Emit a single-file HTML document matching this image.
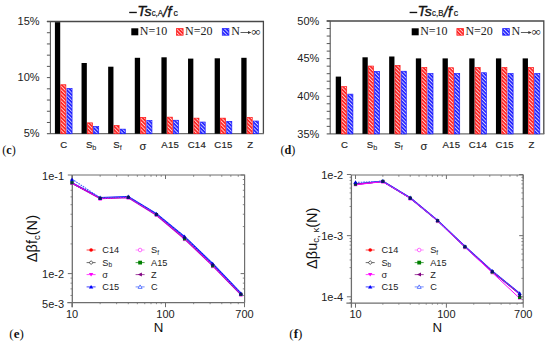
<!DOCTYPE html>
<html><head><meta charset="utf-8"><style>
html,body{margin:0;padding:0;background:#fff;width:550px;height:345px;overflow:hidden}
svg{display:block}
</style></head><body>
<svg width="550" height="345" viewBox="0 0 550 345">
<rect width="550" height="345" fill="#fff"/>
<defs><pattern id="hr" patternUnits="userSpaceOnUse" width="2.6" height="2.6" patternTransform="rotate(-45)"><rect width="2.6" height="2.6" fill="#ff1a1a"/><rect width="1.0" height="2.6" fill="#ffd0d0"/></pattern><pattern id="hb" patternUnits="userSpaceOnUse" width="2.6" height="2.6" patternTransform="rotate(-45)"><rect width="2.6" height="2.6" fill="#1a1aff"/><rect width="1.0" height="2.6" fill="#d0d0ff"/></pattern></defs>
<path d="M46.90 21.50 H263.40 V133.70" fill="none" stroke="#484848" stroke-width="1.3"/>
<path d="M46.90 133.70 H263.90" stroke="#6e6e6e" stroke-width="1.3"/>
<path d="M50.40 21.50 V133.70" stroke="#555" stroke-width="1.1"/>
<path d="M46.90 21.50 H50.40" stroke="#555" stroke-width="1"/>
<path d="M46.90 32.72 H50.40" stroke="#555" stroke-width="1"/>
<path d="M46.90 43.94 H50.40" stroke="#555" stroke-width="1"/>
<path d="M46.90 55.16 H50.40" stroke="#555" stroke-width="1"/>
<path d="M46.90 66.38 H50.40" stroke="#555" stroke-width="1"/>
<path d="M46.90 77.60 H50.40" stroke="#555" stroke-width="1"/>
<path d="M46.90 88.82 H50.40" stroke="#555" stroke-width="1"/>
<path d="M46.90 100.04 H50.40" stroke="#555" stroke-width="1"/>
<path d="M46.90 111.26 H50.40" stroke="#555" stroke-width="1"/>
<path d="M46.90 122.48 H50.40" stroke="#555" stroke-width="1"/>
<text x="39.60" y="25.10" font-family='"Liberation Sans", sans-serif' font-size="11" text-anchor="end" fill="#222">15%</text>
<text x="39.60" y="81.20" font-family='"Liberation Sans", sans-serif' font-size="11" text-anchor="end" fill="#222">10%</text>
<text x="39.60" y="137.30" font-family='"Liberation Sans", sans-serif' font-size="11" text-anchor="end" fill="#222">5%</text>
<rect x="54.91" y="22.20" width="5.3" height="111.50" fill="#000"/>
<rect x="60.76" y="84.75" width="5.1" height="48.95" fill="url(#hr)" stroke="#ff1a1a" stroke-width="0.7"/>
<rect x="66.96" y="88.45" width="5.1" height="45.25" fill="url(#hb)" stroke="#1a1aff" stroke-width="0.7"/>
<text x="63.71" y="148.40" font-family='"Liberation Sans", sans-serif' font-size="9.6" letter-spacing="0" text-anchor="middle" fill="#222" stroke="#222" stroke-width="0.15">C</text>
<rect x="81.54" y="63.00" width="5.3" height="70.70" fill="#000"/>
<rect x="87.39" y="122.85" width="5.1" height="10.85" fill="url(#hr)" stroke="#ff1a1a" stroke-width="0.7"/>
<rect x="93.59" y="126.55" width="5.1" height="7.15" fill="url(#hb)" stroke="#1a1aff" stroke-width="0.7"/>
<text x="91.14" y="148.40" font-family='"Liberation Sans", sans-serif' font-size="9.6" text-anchor="middle" fill="#222" stroke="#222" stroke-width="0.15">S<tspan font-size="7.2" dy="1.9" stroke-width="0.05">b</tspan></text>
<rect x="108.16" y="66.70" width="5.3" height="67.00" fill="#000"/>
<rect x="114.01" y="125.45" width="5.1" height="8.25" fill="url(#hr)" stroke="#ff1a1a" stroke-width="0.7"/>
<rect x="120.21" y="129.15" width="5.1" height="4.55" fill="url(#hb)" stroke="#1a1aff" stroke-width="0.7"/>
<text x="117.46" y="148.40" font-family='"Liberation Sans", sans-serif' font-size="9.6" text-anchor="middle" fill="#222" stroke="#222" stroke-width="0.15">S<tspan font-size="7.2" dy="1.9" stroke-width="0.05">f</tspan></text>
<rect x="134.79" y="57.80" width="5.3" height="75.90" fill="#000"/>
<rect x="140.64" y="117.35" width="5.1" height="16.35" fill="url(#hr)" stroke="#ff1a1a" stroke-width="0.7"/>
<rect x="146.84" y="120.55" width="5.1" height="13.15" fill="url(#hb)" stroke="#1a1aff" stroke-width="0.7"/>
<text x="142.79" y="149.70" font-family='"Liberation Sans", sans-serif' font-size="11" letter-spacing="0" text-anchor="middle" fill="#222" stroke="#222" stroke-width="0.15">σ</text>
<rect x="161.41" y="57.30" width="5.3" height="76.40" fill="#000"/>
<rect x="167.26" y="117.15" width="5.1" height="16.55" fill="url(#hr)" stroke="#ff1a1a" stroke-width="0.7"/>
<rect x="173.46" y="120.25" width="5.1" height="13.45" fill="url(#hb)" stroke="#1a1aff" stroke-width="0.7"/>
<text x="170.21" y="148.40" font-family='"Liberation Sans", sans-serif' font-size="9.6" letter-spacing="0.25" text-anchor="middle" fill="#222" stroke="#222" stroke-width="0.15">A15</text>
<rect x="188.04" y="58.60" width="5.3" height="75.10" fill="#000"/>
<rect x="193.89" y="118.15" width="5.1" height="15.55" fill="url(#hr)" stroke="#ff1a1a" stroke-width="0.7"/>
<rect x="200.09" y="122.05" width="5.1" height="11.65" fill="url(#hb)" stroke="#1a1aff" stroke-width="0.7"/>
<text x="196.84" y="148.40" font-family='"Liberation Sans", sans-serif' font-size="9.6" letter-spacing="0.25" text-anchor="middle" fill="#222" stroke="#222" stroke-width="0.15">C14</text>
<rect x="214.66" y="58.30" width="5.3" height="75.40" fill="#000"/>
<rect x="220.51" y="118.15" width="5.1" height="15.55" fill="url(#hr)" stroke="#ff1a1a" stroke-width="0.7"/>
<rect x="226.71" y="121.35" width="5.1" height="12.35" fill="url(#hb)" stroke="#1a1aff" stroke-width="0.7"/>
<text x="223.46" y="148.40" font-family='"Liberation Sans", sans-serif' font-size="9.6" letter-spacing="0.25" text-anchor="middle" fill="#222" stroke="#222" stroke-width="0.15">C15</text>
<rect x="241.29" y="57.80" width="5.3" height="75.90" fill="#000"/>
<rect x="247.14" y="117.35" width="5.1" height="16.35" fill="url(#hr)" stroke="#ff1a1a" stroke-width="0.7"/>
<rect x="253.34" y="121.05" width="5.1" height="12.65" fill="url(#hb)" stroke="#1a1aff" stroke-width="0.7"/>
<text x="250.09" y="148.40" font-family='"Liberation Sans", sans-serif' font-size="9.6" letter-spacing="0" text-anchor="middle" fill="#222" stroke="#222" stroke-width="0.15">Z</text>
<rect x="131.30" y="28.3" width="7" height="7" fill="#000"/>
<text x="139.80" y="35.4" font-family='"Liberation Serif", serif' font-size="12" fill="#222">N=10</text>
<rect x="176.50" y="28.6" width="6.6" height="6.6" fill="url(#hr)" stroke="#ff2020" stroke-width="0.8"/>
<text x="185.00" y="35.4" font-family='"Liberation Serif", serif' font-size="12" fill="#222">N=20</text>
<rect x="222.30" y="28.6" width="6.6" height="6.6" fill="url(#hb)" stroke="#2020ff" stroke-width="0.8"/>
<text x="231.20" y="35.4" font-family='"Liberation Serif", serif' font-size="12" fill="#222">N</text>
<path d="M240.50 32.5 H250.50" stroke="#333" stroke-width="0.8"/>
<path d="M248.00 31 L251.30 32.5 L248.00 34Z" fill="#333"/>
<text x="251.20" y="35.8" font-family='"Liberation Serif", serif' font-size="13" fill="#222">∞</text>
<rect x="129.20" y="11.8" width="7.6" height="1.35" fill="#111"/>
<text x="137.20" y="16.3" font-family='"Liberation Sans", sans-serif' font-style="italic" font-size="15.5" textLength="9" lengthAdjust="spacingAndGlyphs" fill="#111" stroke="#111" stroke-width="0.35">T</text>
<text x="144.40" y="16.3" font-family='"Liberation Sans", sans-serif' font-style="italic" font-size="13.2" textLength="7" lengthAdjust="spacingAndGlyphs" fill="#111" stroke="#111" stroke-width="0.35">s</text>
<text x="151.70" y="16.3" font-family='"Liberation Sans", sans-serif' font-size="8.2" textLength="11.3" lengthAdjust="spacingAndGlyphs" fill="#111" stroke="#111" stroke-width="0.2">c,A</text>
<text x="163.30" y="17.2" font-family='"Liberation Sans", sans-serif' font-style="italic" font-size="14.5" fill="#111" stroke="#111" stroke-width="0.35">/</text>
<text x="167.60" y="16.6" font-family='"Liberation Sans", sans-serif' font-style="italic" font-size="14.5" fill="#111" stroke="#111" stroke-width="0.35">f</text>
<text x="173.40" y="16.3" font-family='"Liberation Sans", sans-serif' font-size="8.8" fill="#111" stroke="#111" stroke-width="0.2">c</text>
<text x="2.30" y="153.7" font-family='"Liberation Serif", serif' font-size="12.2" fill="#111">(<tspan font-weight="bold">c</tspan>)</text>
<path d="M326.70 21.00 H543.80 V133.90" fill="none" stroke="#484848" stroke-width="1.3"/>
<path d="M326.70 133.90 H544.30" stroke="#6e6e6e" stroke-width="1.3"/>
<path d="M330.20 21.00 V133.90" stroke="#555" stroke-width="1.1"/>
<path d="M326.70 21.00 H330.20" stroke="#555" stroke-width="1"/>
<path d="M326.70 28.53 H330.20" stroke="#555" stroke-width="1"/>
<path d="M326.70 36.05 H330.20" stroke="#555" stroke-width="1"/>
<path d="M326.70 43.58 H330.20" stroke="#555" stroke-width="1"/>
<path d="M326.70 51.11 H330.20" stroke="#555" stroke-width="1"/>
<path d="M326.70 58.63 H330.20" stroke="#555" stroke-width="1"/>
<path d="M326.70 66.16 H330.20" stroke="#555" stroke-width="1"/>
<path d="M326.70 73.69 H330.20" stroke="#555" stroke-width="1"/>
<path d="M326.70 81.21 H330.20" stroke="#555" stroke-width="1"/>
<path d="M326.70 88.74 H330.20" stroke="#555" stroke-width="1"/>
<path d="M326.70 96.27 H330.20" stroke="#555" stroke-width="1"/>
<path d="M326.70 103.79 H330.20" stroke="#555" stroke-width="1"/>
<path d="M326.70 111.32 H330.20" stroke="#555" stroke-width="1"/>
<path d="M326.70 118.85 H330.20" stroke="#555" stroke-width="1"/>
<path d="M326.70 126.37 H330.20" stroke="#555" stroke-width="1"/>
<text x="319.40" y="24.60" font-family='"Liberation Sans", sans-serif' font-size="11" text-anchor="end" fill="#222">50%</text>
<text x="319.40" y="62.23" font-family='"Liberation Sans", sans-serif' font-size="11" text-anchor="end" fill="#222">45%</text>
<text x="319.40" y="99.87" font-family='"Liberation Sans", sans-serif' font-size="11" text-anchor="end" fill="#222">40%</text>
<text x="319.40" y="137.50" font-family='"Liberation Sans", sans-serif' font-size="11" text-anchor="end" fill="#222">35%</text>
<rect x="335.75" y="76.60" width="5.3" height="57.30" fill="#000"/>
<rect x="341.60" y="86.65" width="5.1" height="47.25" fill="url(#hr)" stroke="#ff1a1a" stroke-width="0.7"/>
<rect x="347.80" y="94.15" width="5.1" height="39.75" fill="url(#hb)" stroke="#1a1aff" stroke-width="0.7"/>
<text x="344.55" y="148.40" font-family='"Liberation Sans", sans-serif' font-size="9.6" letter-spacing="0" text-anchor="middle" fill="#222" stroke="#222" stroke-width="0.15">C</text>
<rect x="362.45" y="57.30" width="5.3" height="76.60" fill="#000"/>
<rect x="368.30" y="66.05" width="5.1" height="67.85" fill="url(#hr)" stroke="#ff1a1a" stroke-width="0.7"/>
<rect x="374.50" y="71.45" width="5.1" height="62.45" fill="url(#hb)" stroke="#1a1aff" stroke-width="0.7"/>
<text x="372.05" y="148.40" font-family='"Liberation Sans", sans-serif' font-size="9.6" text-anchor="middle" fill="#222" stroke="#222" stroke-width="0.15">S<tspan font-size="7.2" dy="1.9" stroke-width="0.05">b</tspan></text>
<rect x="389.15" y="56.50" width="5.3" height="77.40" fill="#000"/>
<rect x="395.00" y="65.45" width="5.1" height="68.45" fill="url(#hr)" stroke="#ff1a1a" stroke-width="0.7"/>
<rect x="401.20" y="71.25" width="5.1" height="62.65" fill="url(#hb)" stroke="#1a1aff" stroke-width="0.7"/>
<text x="398.45" y="148.40" font-family='"Liberation Sans", sans-serif' font-size="9.6" text-anchor="middle" fill="#222" stroke="#222" stroke-width="0.15">S<tspan font-size="7.2" dy="1.9" stroke-width="0.05">f</tspan></text>
<rect x="415.85" y="58.40" width="5.3" height="75.50" fill="#000"/>
<rect x="421.70" y="67.45" width="5.1" height="66.45" fill="url(#hr)" stroke="#ff1a1a" stroke-width="0.7"/>
<rect x="427.90" y="73.55" width="5.1" height="60.35" fill="url(#hb)" stroke="#1a1aff" stroke-width="0.7"/>
<text x="423.85" y="149.70" font-family='"Liberation Sans", sans-serif' font-size="11" letter-spacing="0" text-anchor="middle" fill="#222" stroke="#222" stroke-width="0.15">σ</text>
<rect x="442.55" y="58.40" width="5.3" height="75.50" fill="#000"/>
<rect x="448.40" y="67.75" width="5.1" height="66.15" fill="url(#hr)" stroke="#ff1a1a" stroke-width="0.7"/>
<rect x="454.60" y="73.55" width="5.1" height="60.35" fill="url(#hb)" stroke="#1a1aff" stroke-width="0.7"/>
<text x="451.35" y="148.40" font-family='"Liberation Sans", sans-serif' font-size="9.6" letter-spacing="0.25" text-anchor="middle" fill="#222" stroke="#222" stroke-width="0.15">A15</text>
<rect x="469.25" y="58.40" width="5.3" height="75.50" fill="#000"/>
<rect x="475.10" y="67.45" width="5.1" height="66.45" fill="url(#hr)" stroke="#ff1a1a" stroke-width="0.7"/>
<rect x="481.30" y="72.75" width="5.1" height="61.15" fill="url(#hb)" stroke="#1a1aff" stroke-width="0.7"/>
<text x="478.05" y="148.40" font-family='"Liberation Sans", sans-serif' font-size="9.6" letter-spacing="0.25" text-anchor="middle" fill="#222" stroke="#222" stroke-width="0.15">C14</text>
<rect x="495.95" y="58.40" width="5.3" height="75.50" fill="#000"/>
<rect x="501.80" y="67.45" width="5.1" height="66.45" fill="url(#hr)" stroke="#ff1a1a" stroke-width="0.7"/>
<rect x="508.00" y="73.55" width="5.1" height="60.35" fill="url(#hb)" stroke="#1a1aff" stroke-width="0.7"/>
<text x="504.75" y="148.40" font-family='"Liberation Sans", sans-serif' font-size="9.6" letter-spacing="0.25" text-anchor="middle" fill="#222" stroke="#222" stroke-width="0.15">C15</text>
<rect x="522.65" y="58.40" width="5.3" height="75.50" fill="#000"/>
<rect x="528.50" y="67.45" width="5.1" height="66.45" fill="url(#hr)" stroke="#ff1a1a" stroke-width="0.7"/>
<rect x="534.70" y="73.55" width="5.1" height="60.35" fill="url(#hb)" stroke="#1a1aff" stroke-width="0.7"/>
<text x="531.45" y="148.40" font-family='"Liberation Sans", sans-serif' font-size="9.6" letter-spacing="0" text-anchor="middle" fill="#222" stroke="#222" stroke-width="0.15">Z</text>
<rect x="411.70" y="28.3" width="7" height="7" fill="#000"/>
<text x="420.20" y="35.4" font-family='"Liberation Serif", serif' font-size="12" fill="#222">N=10</text>
<rect x="456.90" y="28.6" width="6.6" height="6.6" fill="url(#hr)" stroke="#ff2020" stroke-width="0.8"/>
<text x="465.40" y="35.4" font-family='"Liberation Serif", serif' font-size="12" fill="#222">N=20</text>
<rect x="502.70" y="28.6" width="6.6" height="6.6" fill="url(#hb)" stroke="#2020ff" stroke-width="0.8"/>
<text x="511.60" y="35.4" font-family='"Liberation Serif", serif' font-size="12" fill="#222">N</text>
<path d="M520.90 32.5 H530.90" stroke="#333" stroke-width="0.8"/>
<path d="M528.40 31 L531.70 32.5 L528.40 34Z" fill="#333"/>
<text x="531.60" y="35.8" font-family='"Liberation Serif", serif' font-size="13" fill="#222">∞</text>
<rect x="409.60" y="11.8" width="7.6" height="1.35" fill="#111"/>
<text x="417.60" y="16.3" font-family='"Liberation Sans", sans-serif' font-style="italic" font-size="15.5" textLength="9" lengthAdjust="spacingAndGlyphs" fill="#111" stroke="#111" stroke-width="0.35">T</text>
<text x="424.80" y="16.3" font-family='"Liberation Sans", sans-serif' font-style="italic" font-size="13.2" textLength="7" lengthAdjust="spacingAndGlyphs" fill="#111" stroke="#111" stroke-width="0.35">s</text>
<text x="432.10" y="16.3" font-family='"Liberation Sans", sans-serif' font-size="8.2" textLength="11.3" lengthAdjust="spacingAndGlyphs" fill="#111" stroke="#111" stroke-width="0.2">c,B</text>
<text x="443.70" y="17.2" font-family='"Liberation Sans", sans-serif' font-style="italic" font-size="14.5" fill="#111" stroke="#111" stroke-width="0.35">/</text>
<text x="448.00" y="16.6" font-family='"Liberation Sans", sans-serif' font-style="italic" font-size="14.5" fill="#111" stroke="#111" stroke-width="0.35">f</text>
<text x="453.80" y="16.3" font-family='"Liberation Sans", sans-serif' font-size="8.8" fill="#111" stroke="#111" stroke-width="0.2">c</text>
<text x="280.50" y="153.7" font-family='"Liberation Serif", serif' font-size="12.2" fill="#111">(<tspan font-weight="bold">d</tspan>)</text>
<path d="M72.30 175.00 H244.60 V302.70" fill="none" stroke="#6e6e6e" stroke-width="1.2"/>
<path d="M67.30 302.70 H244.60" stroke="#6e6e6e" stroke-width="1.3"/>
<path d="M72.30 175.00 V307.20" stroke="#6e6e6e" stroke-width="1.3"/>
<path d="M72.00 302.70 V307.20" stroke="#6e6e6e" stroke-width="1"/>
<path d="M72.00 175.00 V179.00" stroke="#6e6e6e" stroke-width="1"/>
<text x="72.00" y="318" font-family='"Liberation Sans", sans-serif' font-size="11" text-anchor="middle" fill="#222">10</text>
<path d="M100.15 302.70 V304.20" stroke="#6e6e6e" stroke-width="0.8"/>
<path d="M100.15 175.00 V176.80" stroke="#6e6e6e" stroke-width="0.8"/>
<path d="M116.61 302.70 V304.20" stroke="#6e6e6e" stroke-width="0.8"/>
<path d="M116.61 175.00 V176.80" stroke="#6e6e6e" stroke-width="0.8"/>
<path d="M128.29 302.70 V304.20" stroke="#6e6e6e" stroke-width="0.8"/>
<path d="M128.29 175.00 V176.80" stroke="#6e6e6e" stroke-width="0.8"/>
<path d="M137.35 302.70 V304.20" stroke="#6e6e6e" stroke-width="0.8"/>
<path d="M137.35 175.00 V176.80" stroke="#6e6e6e" stroke-width="0.8"/>
<path d="M144.76 302.70 V304.20" stroke="#6e6e6e" stroke-width="0.8"/>
<path d="M144.76 175.00 V176.80" stroke="#6e6e6e" stroke-width="0.8"/>
<path d="M151.02 302.70 V304.20" stroke="#6e6e6e" stroke-width="0.8"/>
<path d="M151.02 175.00 V176.80" stroke="#6e6e6e" stroke-width="0.8"/>
<path d="M156.44 302.70 V304.20" stroke="#6e6e6e" stroke-width="0.8"/>
<path d="M156.44 175.00 V176.80" stroke="#6e6e6e" stroke-width="0.8"/>
<path d="M161.22 302.70 V304.20" stroke="#6e6e6e" stroke-width="0.8"/>
<path d="M161.22 175.00 V176.80" stroke="#6e6e6e" stroke-width="0.8"/>
<path d="M165.50 302.70 V307.20" stroke="#6e6e6e" stroke-width="1"/>
<path d="M165.50 175.00 V179.00" stroke="#6e6e6e" stroke-width="1"/>
<text x="165.50" y="318" font-family='"Liberation Sans", sans-serif' font-size="11" text-anchor="middle" fill="#222">100</text>
<path d="M193.65 302.70 V304.20" stroke="#6e6e6e" stroke-width="0.8"/>
<path d="M193.65 175.00 V176.80" stroke="#6e6e6e" stroke-width="0.8"/>
<path d="M210.11 302.70 V304.20" stroke="#6e6e6e" stroke-width="0.8"/>
<path d="M210.11 175.00 V176.80" stroke="#6e6e6e" stroke-width="0.8"/>
<path d="M221.79 302.70 V304.20" stroke="#6e6e6e" stroke-width="0.8"/>
<path d="M221.79 175.00 V176.80" stroke="#6e6e6e" stroke-width="0.8"/>
<path d="M230.85 302.70 V304.20" stroke="#6e6e6e" stroke-width="0.8"/>
<path d="M230.85 175.00 V176.80" stroke="#6e6e6e" stroke-width="0.8"/>
<path d="M238.26 302.70 V304.20" stroke="#6e6e6e" stroke-width="0.8"/>
<path d="M238.26 175.00 V176.80" stroke="#6e6e6e" stroke-width="0.8"/>
<path d="M244.52 302.70 V307.20" stroke="#6e6e6e" stroke-width="1"/>
<path d="M244.52 175.00 V179.00" stroke="#6e6e6e" stroke-width="1"/>
<text x="244.52" y="318" font-family='"Liberation Sans", sans-serif' font-size="11" text-anchor="middle" fill="#222">700</text>
<path d="M70.50 295.47 H72.30" stroke="#6e6e6e" stroke-width="0.8"/>
<path d="M242.80 295.47 H244.60" stroke="#6e6e6e" stroke-width="0.8"/>
<path d="M70.50 288.87 H72.30" stroke="#6e6e6e" stroke-width="0.8"/>
<path d="M242.80 288.87 H244.60" stroke="#6e6e6e" stroke-width="0.8"/>
<path d="M70.50 283.16 H72.30" stroke="#6e6e6e" stroke-width="0.8"/>
<path d="M242.80 283.16 H244.60" stroke="#6e6e6e" stroke-width="0.8"/>
<path d="M70.50 278.11 H72.30" stroke="#6e6e6e" stroke-width="0.8"/>
<path d="M242.80 278.11 H244.60" stroke="#6e6e6e" stroke-width="0.8"/>
<path d="M67.80 273.60 H72.30" stroke="#6e6e6e" stroke-width="1"/>
<path d="M240.60 273.60 H244.60" stroke="#6e6e6e" stroke-width="1"/>
<path d="M70.50 243.92 H72.30" stroke="#6e6e6e" stroke-width="0.8"/>
<path d="M242.80 243.92 H244.60" stroke="#6e6e6e" stroke-width="0.8"/>
<path d="M70.50 226.56 H72.30" stroke="#6e6e6e" stroke-width="0.8"/>
<path d="M242.80 226.56 H244.60" stroke="#6e6e6e" stroke-width="0.8"/>
<path d="M70.50 214.24 H72.30" stroke="#6e6e6e" stroke-width="0.8"/>
<path d="M242.80 214.24 H244.60" stroke="#6e6e6e" stroke-width="0.8"/>
<path d="M70.50 204.68 H72.30" stroke="#6e6e6e" stroke-width="0.8"/>
<path d="M242.80 204.68 H244.60" stroke="#6e6e6e" stroke-width="0.8"/>
<path d="M70.50 196.87 H72.30" stroke="#6e6e6e" stroke-width="0.8"/>
<path d="M242.80 196.87 H244.60" stroke="#6e6e6e" stroke-width="0.8"/>
<path d="M70.50 190.27 H72.30" stroke="#6e6e6e" stroke-width="0.8"/>
<path d="M242.80 190.27 H244.60" stroke="#6e6e6e" stroke-width="0.8"/>
<path d="M70.50 184.56 H72.30" stroke="#6e6e6e" stroke-width="0.8"/>
<path d="M242.80 184.56 H244.60" stroke="#6e6e6e" stroke-width="0.8"/>
<path d="M70.50 179.51 H72.30" stroke="#6e6e6e" stroke-width="0.8"/>
<path d="M242.80 179.51 H244.60" stroke="#6e6e6e" stroke-width="0.8"/>
<path d="M67.80 175.00 H72.30" stroke="#6e6e6e" stroke-width="1"/>
<path d="M240.60 175.00 H244.60" stroke="#6e6e6e" stroke-width="1"/>
<text x="64.10" y="179.60" font-family='"Liberation Sans", sans-serif' font-size="11" text-anchor="end" fill="#222">1e-1</text>
<text x="64.10" y="278.20" font-family='"Liberation Sans", sans-serif' font-size="11" text-anchor="end" fill="#222">1e-2</text>
<text x="64.10" y="307.88" font-family='"Liberation Sans", sans-serif' font-size="11" text-anchor="end" fill="#222">5e-3</text>
<polyline points="72.00,183.00 100.15,197.80 128.29,196.70 156.44,213.80 184.59,236.70 212.73,263.80 240.88,293.30" fill="none" stroke="#0000ff" stroke-width="1.5"/>
<polyline points="72.00,183.30 100.15,198.30 128.29,197.30 156.44,214.60 184.59,238.30 212.73,265.40 240.88,294.60" fill="none" stroke="#008000" stroke-width="0.8"/>
<polyline points="72.00,183.20 100.15,198.60 128.29,197.60 156.44,215.10 184.59,238.90 212.73,265.80 240.88,294.60" fill="none" stroke="#b000c0" stroke-width="1.4"/>
<polyline points="72.00,183.00 100.15,198.40 128.29,197.40 156.44,214.70 184.59,238.40 212.73,265.50 240.88,294.20" fill="none" stroke="#ff00ff" stroke-width="1.0" stroke-dasharray="1.6,1"/>
<polyline points="72.00,179.10 100.15,197.90 128.29,196.90 156.44,214.00 184.59,236.80 212.73,264.00 240.88,293.50" fill="none" stroke="#3a5aff" stroke-width="1.1" stroke-dasharray="1.6,1"/>
<rect x="70.30" y="181.50" width="3.4" height="3.4" fill="#ff40ff"/>
<rect x="70.40" y="181.00" width="3.2" height="3.2" fill="#007000"/>
<path d="M69.90 181.20 H74.10 L72.00 177.40Z" fill="#0000e0"/>
<rect x="70.70" y="181.90" width="2.6" height="2.6" fill="#101060" opacity="0.6"/>
<rect x="98.45" y="197.30" width="3.4" height="3.4" fill="#ff40ff"/>
<rect x="98.55" y="196.80" width="3.2" height="3.2" fill="#007000"/>
<path d="M98.05 199.40 H102.25 L100.15 195.60Z" fill="#0000e0"/>
<rect x="98.85" y="196.90" width="2.6" height="2.6" fill="#101060" opacity="1"/>
<rect x="126.59" y="196.30" width="3.4" height="3.4" fill="#ff40ff"/>
<rect x="126.69" y="195.80" width="3.2" height="3.2" fill="#007000"/>
<path d="M126.19 198.40 H130.39 L128.29 194.60Z" fill="#0000e0"/>
<rect x="126.99" y="195.90" width="2.6" height="2.6" fill="#101060" opacity="1"/>
<rect x="154.74" y="213.50" width="3.4" height="3.4" fill="#ff40ff"/>
<rect x="154.84" y="213.00" width="3.2" height="3.2" fill="#007000"/>
<path d="M154.34 215.60 H158.54 L156.44 211.80Z" fill="#0000e0"/>
<rect x="155.14" y="213.10" width="2.6" height="2.6" fill="#101060" opacity="1"/>
<rect x="182.89" y="237.70" width="3.4" height="3.4" fill="#ff40ff"/>
<rect x="182.99" y="237.20" width="3.2" height="3.2" fill="#007000"/>
<path d="M182.49 238.40 H186.69 L184.59 234.60Z" fill="#0000e0"/>
<rect x="183.29" y="236.60" width="2.6" height="2.6" fill="#101060" opacity="1"/>
<rect x="211.03" y="264.70" width="3.4" height="3.4" fill="#ff40ff"/>
<rect x="211.13" y="264.20" width="3.2" height="3.2" fill="#007000"/>
<path d="M210.63 265.60 H214.83 L212.73 261.80Z" fill="#0000e0"/>
<rect x="211.43" y="263.70" width="2.6" height="2.6" fill="#101060" opacity="1"/>
<rect x="239.18" y="293.30" width="3.4" height="3.4" fill="#ff40ff"/>
<rect x="239.28" y="292.80" width="3.2" height="3.2" fill="#007000"/>
<path d="M238.78 295.20 H242.98 L240.88 291.40Z" fill="#0000e0"/>
<rect x="239.58" y="292.80" width="2.6" height="2.6" fill="#101060" opacity="1"/>
<text transform="translate(37.3 238.6) rotate(-90)" font-family='"Liberation Sans", sans-serif' font-size="14.6" text-anchor="middle" fill="#111">Δβf<tspan font-size="9.5" dy="2.5">c</tspan><tspan dy="-2.5">(N)</tspan></text>
<text x="158.45" y="331.7" font-family='"Liberation Sans", sans-serif' font-size="13.3" text-anchor="middle" fill="#111">N</text>
<text x="9.30" y="338.3" font-family='"Liberation Serif", serif' font-size="13" fill="#111">(<tspan font-weight="bold">e</tspan>)</text>
<path d="M86.60 250.00 H95.60" stroke="#ff0000" stroke-width="0.9" opacity="0.8"/>
<circle cx="91.10" cy="250.00" r="1.8" fill="#ff0000"/>
<text x="102.30" y="253.30" font-family='"Liberation Sans", sans-serif' font-size="9.2" fill="#222">C14</text>
<path d="M86.60 262.60 H95.60" stroke="#333" stroke-width="0.9" opacity="0.8"/>
<path d="M89.10 262.60 L91.10 260.80 L93.10 262.60 L91.10 264.40Z" fill="#fff" stroke="#333" stroke-width="0.8"/>
<text x="102.30" y="265.90" font-family='"Liberation Sans", sans-serif' font-size="9.2" fill="#222">S<tspan font-size="6.5" dy="1.5">b</tspan></text>
<path d="M86.60 274.60 H95.60" stroke="#ff00ff" stroke-width="0.9" opacity="0.8"/>
<path d="M88.90 273.10 H93.30 L91.10 276.60Z" fill="#ff00ff"/>
<text x="102.30" y="277.90" font-family='"Liberation Sans", sans-serif' font-size="9.2" fill="#222">σ</text>
<path d="M86.60 286.90 H95.60" stroke="#0000ff" stroke-width="0.9" opacity="0.8"/>
<path d="M88.90 288.40 H93.30 L91.10 284.90Z" fill="#0000ff"/>
<text x="102.30" y="290.20" font-family='"Liberation Sans", sans-serif' font-size="9.2" fill="#222">C15</text>
<path d="M135.60 250.00 H144.60" stroke="#ff66ff" stroke-width="0.9" opacity="0.8"/>
<circle cx="140.10" cy="250.00" r="1.8" fill="#fff" stroke="#ff66ff" stroke-width="1"/>
<text x="151.10" y="253.30" font-family='"Liberation Sans", sans-serif' font-size="9.2" fill="#222">S<tspan font-size="6.5" dy="1.5">f</tspan></text>
<path d="M135.60 262.60 H144.60" stroke="#008000" stroke-width="0.9" opacity="0.8"/>
<rect x="138.20" y="260.70" width="3.8" height="3.8" fill="#008000"/>
<text x="151.10" y="265.90" font-family='"Liberation Sans", sans-serif' font-size="9.2" fill="#222">A15</text>
<path d="M135.60 274.60 H144.60" stroke="#800080" stroke-width="0.9" opacity="0.8"/>
<path d="M141.90 272.60 V276.60 L137.90 274.60Z" fill="#800080"/>
<text x="151.10" y="277.90" font-family='"Liberation Sans", sans-serif' font-size="9.2" fill="#222">Z</text>
<path d="M135.60 286.90 H144.60" stroke="#4060ff" stroke-width="0.9" opacity="0.8"/>
<path d="M138.10 288.40 H142.10 L140.10 284.90Z" fill="#fff" stroke="#4060ff" stroke-width="0.8"/>
<text x="151.10" y="290.20" font-family='"Liberation Sans", sans-serif' font-size="9.2" fill="#222">C</text>
<path d="M351.40 175.00 H523.20 V303.20" fill="none" stroke="#6e6e6e" stroke-width="1.2"/>
<path d="M346.40 303.20 H523.20" stroke="#6e6e6e" stroke-width="1.3"/>
<path d="M351.40 175.00 V307.70" stroke="#6e6e6e" stroke-width="1.3"/>
<path d="M355.50 303.20 V307.70" stroke="#6e6e6e" stroke-width="1"/>
<path d="M355.50 175.00 V179.00" stroke="#6e6e6e" stroke-width="1"/>
<text x="355.50" y="318" font-family='"Liberation Sans", sans-serif' font-size="11" text-anchor="middle" fill="#222">10</text>
<path d="M382.86 303.20 V304.70" stroke="#6e6e6e" stroke-width="0.8"/>
<path d="M382.86 175.00 V176.80" stroke="#6e6e6e" stroke-width="0.8"/>
<path d="M398.87 303.20 V304.70" stroke="#6e6e6e" stroke-width="0.8"/>
<path d="M398.87 175.00 V176.80" stroke="#6e6e6e" stroke-width="0.8"/>
<path d="M410.23 303.20 V304.70" stroke="#6e6e6e" stroke-width="0.8"/>
<path d="M410.23 175.00 V176.80" stroke="#6e6e6e" stroke-width="0.8"/>
<path d="M419.04 303.20 V304.70" stroke="#6e6e6e" stroke-width="0.8"/>
<path d="M419.04 175.00 V176.80" stroke="#6e6e6e" stroke-width="0.8"/>
<path d="M426.23 303.20 V304.70" stroke="#6e6e6e" stroke-width="0.8"/>
<path d="M426.23 175.00 V176.80" stroke="#6e6e6e" stroke-width="0.8"/>
<path d="M432.32 303.20 V304.70" stroke="#6e6e6e" stroke-width="0.8"/>
<path d="M432.32 175.00 V176.80" stroke="#6e6e6e" stroke-width="0.8"/>
<path d="M437.59 303.20 V304.70" stroke="#6e6e6e" stroke-width="0.8"/>
<path d="M437.59 175.00 V176.80" stroke="#6e6e6e" stroke-width="0.8"/>
<path d="M442.24 303.20 V304.70" stroke="#6e6e6e" stroke-width="0.8"/>
<path d="M442.24 175.00 V176.80" stroke="#6e6e6e" stroke-width="0.8"/>
<path d="M446.40 303.20 V307.70" stroke="#6e6e6e" stroke-width="1"/>
<path d="M446.40 175.00 V179.00" stroke="#6e6e6e" stroke-width="1"/>
<text x="446.40" y="318" font-family='"Liberation Sans", sans-serif' font-size="11" text-anchor="middle" fill="#222">100</text>
<path d="M473.76 303.20 V304.70" stroke="#6e6e6e" stroke-width="0.8"/>
<path d="M473.76 175.00 V176.80" stroke="#6e6e6e" stroke-width="0.8"/>
<path d="M489.77 303.20 V304.70" stroke="#6e6e6e" stroke-width="0.8"/>
<path d="M489.77 175.00 V176.80" stroke="#6e6e6e" stroke-width="0.8"/>
<path d="M501.13 303.20 V304.70" stroke="#6e6e6e" stroke-width="0.8"/>
<path d="M501.13 175.00 V176.80" stroke="#6e6e6e" stroke-width="0.8"/>
<path d="M509.94 303.20 V304.70" stroke="#6e6e6e" stroke-width="0.8"/>
<path d="M509.94 175.00 V176.80" stroke="#6e6e6e" stroke-width="0.8"/>
<path d="M517.13 303.20 V304.70" stroke="#6e6e6e" stroke-width="0.8"/>
<path d="M517.13 175.00 V176.80" stroke="#6e6e6e" stroke-width="0.8"/>
<path d="M523.22 303.20 V307.70" stroke="#6e6e6e" stroke-width="1"/>
<path d="M523.22 175.00 V179.00" stroke="#6e6e6e" stroke-width="1"/>
<text x="523.22" y="318" font-family='"Liberation Sans", sans-serif' font-size="11" text-anchor="middle" fill="#222">700</text>
<path d="M349.60 302.73 H351.40" stroke="#6e6e6e" stroke-width="0.8"/>
<path d="M521.40 302.73 H523.20" stroke="#6e6e6e" stroke-width="0.8"/>
<path d="M349.60 299.60 H351.40" stroke="#6e6e6e" stroke-width="0.8"/>
<path d="M521.40 299.60 H523.20" stroke="#6e6e6e" stroke-width="0.8"/>
<path d="M346.90 296.80 H351.40" stroke="#6e6e6e" stroke-width="1"/>
<path d="M519.20 296.80 H523.20" stroke="#6e6e6e" stroke-width="1"/>
<path d="M349.60 278.39 H351.40" stroke="#6e6e6e" stroke-width="0.8"/>
<path d="M521.40 278.39 H523.20" stroke="#6e6e6e" stroke-width="0.8"/>
<path d="M349.60 267.62 H351.40" stroke="#6e6e6e" stroke-width="0.8"/>
<path d="M521.40 267.62 H523.20" stroke="#6e6e6e" stroke-width="0.8"/>
<path d="M349.60 259.98 H351.40" stroke="#6e6e6e" stroke-width="0.8"/>
<path d="M521.40 259.98 H523.20" stroke="#6e6e6e" stroke-width="0.8"/>
<path d="M349.60 254.06 H351.40" stroke="#6e6e6e" stroke-width="0.8"/>
<path d="M521.40 254.06 H523.20" stroke="#6e6e6e" stroke-width="0.8"/>
<path d="M349.60 249.22 H351.40" stroke="#6e6e6e" stroke-width="0.8"/>
<path d="M521.40 249.22 H523.20" stroke="#6e6e6e" stroke-width="0.8"/>
<path d="M349.60 245.12 H351.40" stroke="#6e6e6e" stroke-width="0.8"/>
<path d="M521.40 245.12 H523.20" stroke="#6e6e6e" stroke-width="0.8"/>
<path d="M349.60 241.58 H351.40" stroke="#6e6e6e" stroke-width="0.8"/>
<path d="M521.40 241.58 H523.20" stroke="#6e6e6e" stroke-width="0.8"/>
<path d="M349.60 238.45 H351.40" stroke="#6e6e6e" stroke-width="0.8"/>
<path d="M521.40 238.45 H523.20" stroke="#6e6e6e" stroke-width="0.8"/>
<path d="M346.90 235.65 H351.40" stroke="#6e6e6e" stroke-width="1"/>
<path d="M519.20 235.65 H523.20" stroke="#6e6e6e" stroke-width="1"/>
<path d="M349.60 217.24 H351.40" stroke="#6e6e6e" stroke-width="0.8"/>
<path d="M521.40 217.24 H523.20" stroke="#6e6e6e" stroke-width="0.8"/>
<path d="M349.60 206.47 H351.40" stroke="#6e6e6e" stroke-width="0.8"/>
<path d="M521.40 206.47 H523.20" stroke="#6e6e6e" stroke-width="0.8"/>
<path d="M349.60 198.83 H351.40" stroke="#6e6e6e" stroke-width="0.8"/>
<path d="M521.40 198.83 H523.20" stroke="#6e6e6e" stroke-width="0.8"/>
<path d="M349.60 192.91 H351.40" stroke="#6e6e6e" stroke-width="0.8"/>
<path d="M521.40 192.91 H523.20" stroke="#6e6e6e" stroke-width="0.8"/>
<path d="M349.60 188.07 H351.40" stroke="#6e6e6e" stroke-width="0.8"/>
<path d="M521.40 188.07 H523.20" stroke="#6e6e6e" stroke-width="0.8"/>
<path d="M349.60 183.97 H351.40" stroke="#6e6e6e" stroke-width="0.8"/>
<path d="M521.40 183.97 H523.20" stroke="#6e6e6e" stroke-width="0.8"/>
<path d="M349.60 180.43 H351.40" stroke="#6e6e6e" stroke-width="0.8"/>
<path d="M521.40 180.43 H523.20" stroke="#6e6e6e" stroke-width="0.8"/>
<path d="M349.60 177.30 H351.40" stroke="#6e6e6e" stroke-width="0.8"/>
<path d="M521.40 177.30 H523.20" stroke="#6e6e6e" stroke-width="0.8"/>
<path d="M346.90 174.50 H351.40" stroke="#6e6e6e" stroke-width="1"/>
<path d="M519.20 174.50 H523.20" stroke="#6e6e6e" stroke-width="1"/>
<text x="343.20" y="179.10" font-family='"Liberation Sans", sans-serif' font-size="11" text-anchor="end" fill="#222">1e-2</text>
<text x="343.20" y="240.25" font-family='"Liberation Sans", sans-serif' font-size="11" text-anchor="end" fill="#222">1e-3</text>
<text x="343.20" y="301.40" font-family='"Liberation Sans", sans-serif' font-size="11" text-anchor="end" fill="#222">1e-4</text>
<polyline points="355.50,184.30 382.86,181.30 410.23,197.90 437.59,220.50 464.95,246.50 492.32,271.30 519.68,293.60" fill="none" stroke="#0000ff" stroke-width="1.6"/>
<polyline points="355.50,184.20 382.86,181.50 410.23,198.20 437.59,220.80 464.95,246.90 492.32,271.60 519.68,293.90" fill="none" stroke="#008000" stroke-width="0.8"/>
<polyline points="355.50,184.40 382.86,181.40 410.23,198.00 437.59,220.60 464.95,246.70 492.32,271.50 519.68,294.00" fill="none" stroke="#c000c0" stroke-width="1.2"/>
<polyline points="355.50,184.80 382.86,181.60 410.23,198.20 437.59,220.80 464.95,247.00 492.32,272.70 519.68,298.30" fill="none" stroke="#ff00ff" stroke-width="1.0"/>
<polyline points="355.50,182.50 382.86,181.20 410.23,197.80 437.59,220.40 464.95,246.50 492.32,271.20 519.68,293.50" fill="none" stroke="#3a5aff" stroke-width="1.1" stroke-dasharray="1.6,1"/>
<rect x="353.80" y="182.90" width="3.4" height="3.4" fill="#ff40ff"/>
<rect x="353.90" y="182.40" width="3.2" height="3.2" fill="#007000"/>
<path d="M353.40 184.00 H357.60 L355.50 180.20Z" fill="#0000e0"/>
<rect x="354.20" y="183.30" width="2.6" height="2.6" fill="#101060" opacity="0.6"/>
<rect x="381.16" y="180.30" width="3.4" height="3.4" fill="#ff40ff"/>
<rect x="381.26" y="179.80" width="3.2" height="3.2" fill="#007000"/>
<path d="M380.76 182.60 H384.96 L382.86 178.80Z" fill="#0000e0"/>
<rect x="381.56" y="180.00" width="2.6" height="2.6" fill="#101060" opacity="1"/>
<rect x="408.53" y="197.10" width="3.4" height="3.4" fill="#ff40ff"/>
<rect x="408.63" y="196.60" width="3.2" height="3.2" fill="#007000"/>
<path d="M408.13 199.40 H412.33 L410.23 195.60Z" fill="#0000e0"/>
<rect x="408.93" y="196.80" width="2.6" height="2.6" fill="#101060" opacity="1"/>
<rect x="435.89" y="219.70" width="3.4" height="3.4" fill="#ff40ff"/>
<rect x="435.99" y="219.20" width="3.2" height="3.2" fill="#007000"/>
<path d="M435.49 222.00 H439.69 L437.59 218.20Z" fill="#0000e0"/>
<rect x="436.29" y="219.40" width="2.6" height="2.6" fill="#101060" opacity="1"/>
<rect x="463.25" y="245.80" width="3.4" height="3.4" fill="#ff40ff"/>
<rect x="463.35" y="245.30" width="3.2" height="3.2" fill="#007000"/>
<path d="M462.85 248.10 H467.05 L464.95 244.30Z" fill="#0000e0"/>
<rect x="463.65" y="245.50" width="2.6" height="2.6" fill="#101060" opacity="1"/>
<rect x="490.62" y="270.90" width="3.4" height="3.4" fill="#ff40ff"/>
<rect x="490.72" y="270.40" width="3.2" height="3.2" fill="#007000"/>
<path d="M490.22 272.80 H494.42 L492.32 269.00Z" fill="#0000e0"/>
<rect x="491.02" y="270.40" width="2.6" height="2.6" fill="#101060" opacity="1"/>
<rect x="517.98" y="296.30" width="3.4" height="3.4" fill="#ff40ff"/>
<rect x="518.08" y="295.80" width="3.2" height="3.2" fill="#007000"/>
<path d="M517.58 295.00 H521.78 L519.68 291.20Z" fill="#0000e0"/>
<rect x="518.38" y="294.20" width="2.6" height="2.6" fill="#101060" opacity="1"/>
<text transform="translate(316.5 238.25) rotate(-90)" font-family='"Liberation Sans", sans-serif' font-size="14.6" text-anchor="middle" fill="#111">Δβu<tspan font-size="9.5" dy="2.5">c, κ</tspan><tspan dy="-2.5">(N)</tspan></text>
<text x="437.30" y="331.7" font-family='"Liberation Sans", sans-serif' font-size="13.3" text-anchor="middle" fill="#111">N</text>
<text x="289.30" y="338.3" font-family='"Liberation Serif", serif' font-size="13" fill="#111">(<tspan font-weight="bold">f</tspan>)</text>
<path d="M365.70 250.00 H374.70" stroke="#ff0000" stroke-width="0.9" opacity="0.8"/>
<circle cx="370.20" cy="250.00" r="1.8" fill="#ff0000"/>
<text x="381.40" y="253.30" font-family='"Liberation Sans", sans-serif' font-size="9.2" fill="#222">C14</text>
<path d="M365.70 262.60 H374.70" stroke="#333" stroke-width="0.9" opacity="0.8"/>
<path d="M368.20 262.60 L370.20 260.80 L372.20 262.60 L370.20 264.40Z" fill="#fff" stroke="#333" stroke-width="0.8"/>
<text x="381.40" y="265.90" font-family='"Liberation Sans", sans-serif' font-size="9.2" fill="#222">S<tspan font-size="6.5" dy="1.5">b</tspan></text>
<path d="M365.70 274.60 H374.70" stroke="#ff00ff" stroke-width="0.9" opacity="0.8"/>
<path d="M368.00 273.10 H372.40 L370.20 276.60Z" fill="#ff00ff"/>
<text x="381.40" y="277.90" font-family='"Liberation Sans", sans-serif' font-size="9.2" fill="#222">σ</text>
<path d="M365.70 286.90 H374.70" stroke="#0000ff" stroke-width="0.9" opacity="0.8"/>
<path d="M368.00 288.40 H372.40 L370.20 284.90Z" fill="#0000ff"/>
<text x="381.40" y="290.20" font-family='"Liberation Sans", sans-serif' font-size="9.2" fill="#222">C15</text>
<path d="M414.70 250.00 H423.70" stroke="#ff66ff" stroke-width="0.9" opacity="0.8"/>
<circle cx="419.20" cy="250.00" r="1.8" fill="#fff" stroke="#ff66ff" stroke-width="1"/>
<text x="430.20" y="253.30" font-family='"Liberation Sans", sans-serif' font-size="9.2" fill="#222">S<tspan font-size="6.5" dy="1.5">f</tspan></text>
<path d="M414.70 262.60 H423.70" stroke="#008000" stroke-width="0.9" opacity="0.8"/>
<rect x="417.30" y="260.70" width="3.8" height="3.8" fill="#008000"/>
<text x="430.20" y="265.90" font-family='"Liberation Sans", sans-serif' font-size="9.2" fill="#222">A15</text>
<path d="M414.70 274.60 H423.70" stroke="#800080" stroke-width="0.9" opacity="0.8"/>
<path d="M421.00 272.60 V276.60 L417.00 274.60Z" fill="#800080"/>
<text x="430.20" y="277.90" font-family='"Liberation Sans", sans-serif' font-size="9.2" fill="#222">Z</text>
<path d="M414.70 286.90 H423.70" stroke="#4060ff" stroke-width="0.9" opacity="0.8"/>
<path d="M417.20 288.40 H421.20 L419.20 284.90Z" fill="#fff" stroke="#4060ff" stroke-width="0.8"/>
<text x="430.20" y="290.20" font-family='"Liberation Sans", sans-serif' font-size="9.2" fill="#222">C</text>
</svg>
</body></html>
